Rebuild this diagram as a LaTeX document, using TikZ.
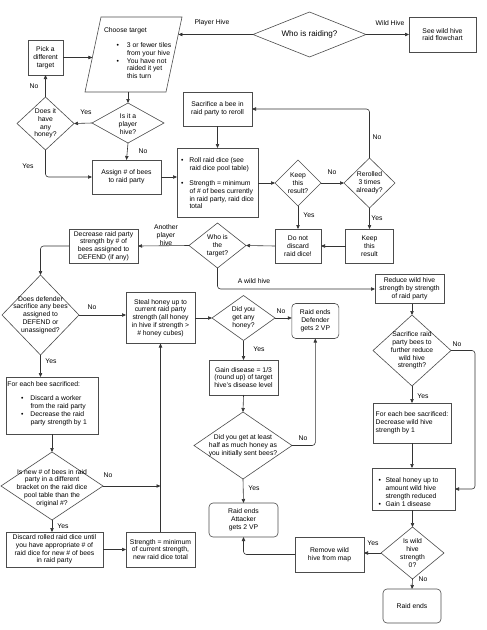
\documentclass[tikz,border=0pt]{standalone}
\usepackage{fontspec}
\setmainfont{Liberation Sans}
\usetikzlibrary{shapes.geometric,arrows.meta,calc}
\begin{document}
\begin{tikzpicture}[x=1pt,y=-1pt,
  every node/.style={font=\fontsize{6.8}{7.8}\selectfont, inner sep=0pt, outer sep=0pt},
  box/.style={draw=black!70, line width=0.6pt, rectangle, align=center},
  rbox/.style={box, rounded corners=4pt},
  dia/.style={draw=black!70, line width=0.6pt, diamond},
  conn/.style={draw=black!80, line width=0.6pt, -{Triangle[length=4pt,width=3.4pt]}, rounded corners=3pt},
]
\useasboundingbox (0,0) rectangle (487,630);

% ---- top row
\node[dia, minimum width=113pt, minimum height=45pt] (raiding) at (309.5,34.5) {};
\node[font=\fontsize{8.1}{9.5}\selectfont] (raidingT) at (raiding) {Who is raiding?};
\node[box, minimum width=67pt, minimum height=35pt] (seewild) at (442.5,34.5) {See wild hive\\raid flowchart};

% parallelogram "Choose target"
\draw[draw=black!70, line width=0.6pt] (101,17) -- (182,17) -- (166,92) -- (85,92) -- cycle;
\coordinate (ptR) at (178.4,34.5);
\coordinate (ptL) at (92.4,57.5);
\coordinate (ptB) at (128,92);
\node[anchor=base west] (choose) at (104,32.7) {Choose target};
\node[anchor=base west] (chooseL) at (116.5,47.5) {\begin{tabular}[t]{@{}p{10.5pt}@{}l@{}}\textbullet & 3 or fewer tiles\\ & from your hive\\ \textbullet & You have not\\ & raided it yet\\ & this turn\end{tabular}};

\node[box, minimum width=35pt, minimum height=35pt] (pick) at (45.5,57.5) {Pick a\\different\\target};

\node[dia, minimum width=57pt, minimum height=53pt] (does) at (45.5,123.5) {};
\node[align=center] (doesT) at (does) {Does it\\have\\any\\honey?};
\node[dia, minimum width=72pt, minimum height=40pt] (isit) at (128,123) {};
\node[align=center] (isitT) at (128,124) {Is it a\\player\\hive?};

\node[box, minimum width=69pt, minimum height=34pt] (assign) at (126.5,177) {Assign \# of bees\\to raid party};

% ---- dice rolling
\node[box, minimum width=69pt, minimum height=34pt] (sacr) at (217.5,109) {Sacrifice a bee in\\raid party to reroll};
\node[box, minimum width=81pt, minimum height=69pt] (roll) at (217.5,182.5) {};
\node[anchor=base west] (rollL) at (181,162.7) {\begin{tabular}[t]{@{}p{8.5pt}@{}l@{}}\textbullet & Roll raid dice (see\\ & raid dice pool table)\\[7.2pt] \textbullet & Strength = minimum\\ & of \# of bees currently\\ & in raid party, raid dice\\ & total\end{tabular}};

\node[dia, minimum width=46pt, minimum height=46pt] (keep) at (298,183) {};
\node[align=center] (keepT) at (keep) {Keep\\this\\result?};
\node[dia, minimum width=51pt, minimum height=50pt] (reroll) at (369.5,183) {};
\node[align=center] (rerollT) at (reroll) {Rerolled\\3 times\\already?};

\node[box, minimum width=46pt, minimum height=34pt] (notdisc) at (298,246) {Do not\\discard\\raid dice!};
\node[box, minimum width=48pt, minimum height=34pt] (keepres) at (369.5,246) {Keep\\this\\result};

\node[dia, minimum width=57pt, minimum height=45pt] (target) at (217.5,245.5) {};
\node[align=center] (targetT) at (target) {Who is\\the\\target?};

\node[box, minimum width=69pt, minimum height=34pt] (decrease) at (103.5,246) {Decrease raid party\\strength by \# of\\bees assigned to\\DEFEND (if any)};

% ---- player hive branch
\node[dia, minimum width=77pt, minimum height=80pt] (defender) at (40.5,315) {};
\node[align=center] (defenderT) at (defender) {Does defender\\sacrifice any bees\\assigned to\\DEFEND or\\unassigned?};

\node[box, minimum width=69pt, minimum height=51pt] (steal) at (160.5,318) {Steal honey up to\\current raid party\\strength (all honey\\in hive if strength >\\\# honey cubes)};

\node[dia, minimum width=63pt, minimum height=45pt] (anyhoney) at (243.5,318) {};
\node[align=center] (anyhoneyT) at (anyhoney) {Did you\\get any\\honey?};
\node[rbox, minimum width=47pt, minimum height=35pt] (defends) at (315.3,321) {Raid ends\\Defender\\gets 2 VP};

\node[box, minimum width=69pt, minimum height=35pt] (gain) at (243.5,377.5) {Gain disease = 1/3\\(round up) of target\\hive's disease level};

\node[dia, minimum width=98pt, minimum height=67pt] (half) at (243,445.5) {};
\node[align=center] (halfT) at (half) {Did you get at least\\half as much honey as\\you initially sent bees?};

\node[rbox, minimum width=69pt, minimum height=34pt] (attacker) at (243.5,520) {Raid ends\\Attacker\\gets 2 VP};
\node[box, minimum width=69pt, minimum height=35pt] (remove) at (329.5,554.5) {Remove wild\\hive from map};

\node[box, minimum width=92pt, minimum height=57pt] (foreach) at (52,405.5) {};
\node[anchor=base west] (foreachT) at (7.5,386.3) {For each bee sacrificed:};
\node[anchor=base west] (foreachL) at (21,400.7) {\begin{tabular}[t]{@{}p{9.5pt}@{}l@{}}\textbullet & Discard a worker\\ & from the raid party\\ \textbullet & Decrease the raid\\ & party strength by 1\end{tabular}};

\node[dia, minimum width=102pt, minimum height=68pt] (newdia) at (52,486) {};
\node[align=center] (newdiaT) at (52,488) {Is new \# of bees in raid\\party in a different\\bracket on the raid dice\\pool table than the\\original \#?};

\node[box, minimum width=97pt, minimum height=35pt] (discard) at (54.5,549.5) {Discard rolled raid dice until\\you have appropriate \# of\\raid dice for new \# of bees\\in raid party};
\node[box, minimum width=69pt, minimum height=35pt] (strength) at (160.5,549.5) {Strength = minimum\\of current strength,\\new raid dice total};

% ---- wild hive branch
\node[box, minimum width=69pt, minimum height=29pt] (reduce) at (409.5,289) {Reduce wild hive\\strength by strength\\of raid party};
\node[dia, minimum width=78pt, minimum height=71pt] (sacrdia) at (412,350.5) {};
\node[align=center] (sacrdiaT) at (sacrdia) {Sacrifice raid\\party bees to\\further reduce\\wild hive\\strength?};
\node[box, minimum width=78pt, minimum height=40pt, align=left] (foreachw) at (412,423) {For each bee sacrificed:\\Decrease wild hive\\strength by 1};
\node[box, minimum width=83pt, minimum height=42pt] (steal2) at (413.5,489) {};
\node[anchor=base west] (steal2L) at (378.5,482.7) {\begin{tabular}[t]{@{}p{7pt}@{}l@{}}\textbullet & Steal honey up to\\ & amount wild hive\\ & strength reduced\\ \textbullet & Gain 1 disease\end{tabular}};
\node[dia, minimum width=63pt, minimum height=52pt] (wild0) at (412.5,553) {};
\node[align=center] (wild0T) at (wild0) {Is wild\\hive\\strength\\0?};
\node[rbox, minimum width=58pt, minimum height=34pt] (raidends) at (412,606) {Raid ends};
\coordinate (rc) at (475,350);

% ---- labels
\node (lPlayer) at (212,23) {Player Hive};
\node (lWild) at (390,23) {Wild Hive};
\node (lNo1) at (34,86) {No};
\node (lYes1) at (86,112) {Yes};
\node (lYes2) at (28,166) {Yes};
\node (lNo2) at (143,151) {No};
\node (lNo3) at (332,172) {No};
\node (lNo4) at (377,137) {No};
\node (lYes3) at (309,215) {Yes};
\node (lYes4) at (377,218) {Yes};
\node[align=center] (lAnother) at (166,235) {Another\\player\\hive};
\node (lAwild) at (254,281) {A wild hive};
\node (lNo5) at (92,307) {No};
\node (lYes5) at (51,361) {Yes};
\node (lNo6) at (108,475) {No};
\node (lYes6) at (63,526) {Yes};
\node (lNo7) at (281,311) {No};
\node (lYes7) at (259,349) {Yes};
\node (lNo8) at (303,438) {No};
\node (lYes8) at (254,488) {Yes};
\node (lNo9) at (457,344) {No};
\node (lYes9) at (423,396) {Yes};
\node (lYes10) at (373,543) {Yes};
\node (lNo10) at (423,579) {No};

% ---- connectors
\draw[conn] (raiding.west) -- (ptR);
\draw[conn] (raiding.east) -- (seewild.west);
\draw[conn] (pick.east) -- (ptL);
\draw[conn] (ptB) -- (isit.north);
\draw[conn] (isit.west) -- (does.east);
\draw[conn] (does.north) -- (pick.south);
\draw[conn] (does.south) |- (assign.west);
\draw[conn] (isit.south) -- (assign.north);
\draw[conn] (assign.east) -- (assign.east -| roll.west);
\draw[conn] (sacr.south) -- (roll.north);
\draw[conn] (roll.east |- keep.west) -- (keep.west);
\draw[conn] (keep.east) -- (reroll.west);
\draw[conn] (reroll.north) |- (sacr.east);
\draw[conn] (keep.south) -- (notdisc.north);
\draw[conn] (reroll.south) -- (keepres.north);
\draw[conn] (keepres.west) -- (notdisc.east);
\draw[conn] (notdisc.west) -- (target.east);
\draw[conn] (target.west) -- (decrease.east);
\draw[conn] (decrease.west) -| (defender.north);
\draw[conn] (target.south) |- (reduce.west);
\draw[conn] (defender.east) -- (defender.east -| steal.west);
\draw[conn] (defender.south) -- (defender.south |- foreach.north);
\draw[conn] (foreach.south) -- (newdia.north);
\draw[conn] (newdia.east) -- (newdia.east -| strength.north);
\draw[conn] (newdia.south) -- (newdia.south |- discard.north);
\draw[conn] (discard.east) -- (strength.west);
\draw[conn] (strength.north) -- (steal.south);
\draw[conn] (steal.east) -- (anyhoney.west);
\draw[conn] (anyhoney.east) -- (anyhoney.east -| defends.west);
\draw[conn] (anyhoney.south) -- (gain.north);
\draw[conn] (gain.south) -- (half.north);
\draw[conn] (half.east) -| (defends.south);
\draw[conn] (half.south) -- (attacker.north);
\draw[conn] (remove.west) -| (attacker.south);
\draw[conn] (sacrdia.north |- reduce.south) -- (sacrdia.north);
\draw[conn] (sacrdia.east) -- (sacrdia.east -| rc) |- (steal2.east);
\draw[conn] (sacrdia.south) -- (foreachw.north);
\draw[conn] (foreachw.south) -- (foreachw.south |- steal2.north);
\draw[conn] (steal2.south -| wild0.north) -- (wild0.north);
\draw[conn] (wild0.west) -- (wild0.west -| remove.east);
\draw[conn] (wild0.south) -- (raidends.north);
\end{tikzpicture}
\end{document}
